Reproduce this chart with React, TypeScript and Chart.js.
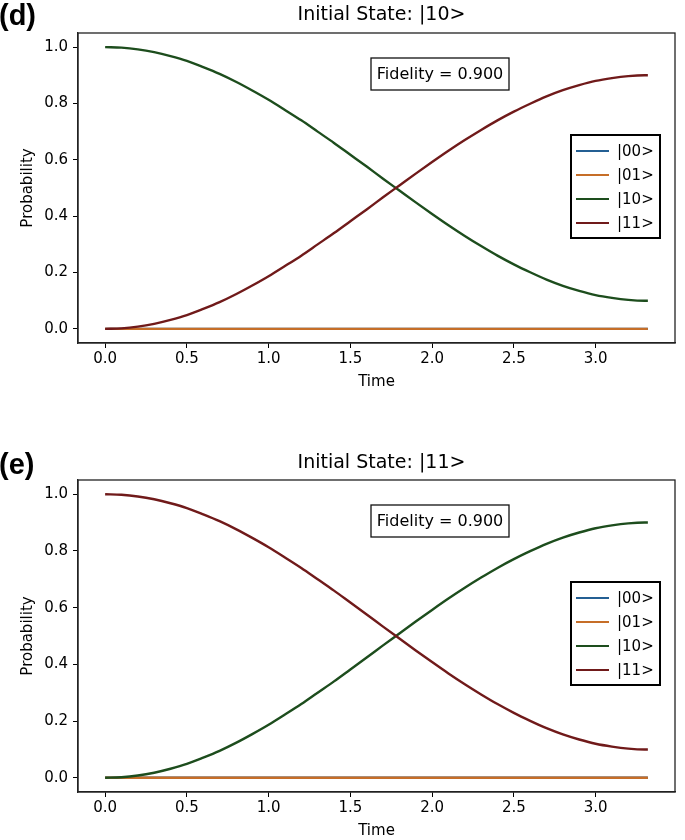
import React, { useEffect, useRef } from "react";
import { Chart, registerables } from "chart.js";

Chart.register(...registerables);

// ---- data ----
const TIME = [
  0, 0.1, 0.2, 0.3, 0.4, 0.5, 0.6, 0.7, 0.8, 0.9, 1.0, 1.1, 1.2, 1.3, 1.4, 1.5, 1.6,
  1.7, 1.8, 1.9, 2.0, 2.1, 2.2, 2.3, 2.4, 2.5, 2.6, 2.7, 2.8, 2.9, 3.0, 3.1, 3.2, 3.3, 3.32,
];
// probability of the initial state (falls from 1.0 to 0.1)
const FALLING = [
  1.0, 0.998, 0.992, 0.982, 0.968, 0.951, 0.929, 0.905, 0.877, 0.846, 0.813, 0.777, 0.74,
  0.7, 0.66, 0.618, 0.576, 0.533, 0.491, 0.449, 0.408, 0.368, 0.33, 0.294, 0.26, 0.229,
  0.201, 0.175, 0.153, 0.135, 0.12, 0.11, 0.103, 0.1, 0.1,
];
// probability of the target state (rises from 0 to 0.9)
const RISING = [
  0.0, 0.002, 0.008, 0.018, 0.032, 0.049, 0.071, 0.095, 0.123, 0.154, 0.187, 0.223, 0.26,
  0.3, 0.34, 0.382, 0.424, 0.467, 0.509, 0.551, 0.592, 0.632, 0.67, 0.706, 0.74, 0.771,
  0.799, 0.825, 0.847, 0.865, 0.88, 0.89, 0.897, 0.9, 0.9,
];
const FLAT_ZERO = [
  0, 0, 0, 0, 0, 0, 0, 0, 0, 0, 0, 0, 0, 0, 0, 0, 0, 0, 0, 0, 0, 0, 0, 0, 0, 0, 0, 0, 0,
  0, 0, 0, 0, 0, 0,
];

const STATES = ["|00>", "|01>", "|10>", "|11>"];
const X_TICKS = [0, 0.5, 1.0, 1.5, 2.0, 2.5, 3.0];
const Y_TICKS = [0, 0.2, 0.4, 0.6, 0.8, 1.0];

const PANEL_D_SERIES = [FLAT_ZERO, FLAT_ZERO, FALLING, RISING];
const PANEL_E_SERIES = [FLAT_ZERO, FLAT_ZERO, RISING, FALLING];

// ---- styles ----
const COLORS = ["#245f93", "#c66e28", "#1d4d1d", "#701a1a"];
const FONT = "'DejaVu Sans', sans-serif";

const decorPlugin = {
  id: "decor",
  afterDraw(chart: any, _args: any, opts: any) {
    const { ctx, chartArea: a } = chart;
    ctx.save();
    // axes frame
    ctx.strokeStyle = "#222";
    ctx.lineWidth = 1.3;
    ctx.strokeRect(a.left, a.top, a.right - a.left, a.bottom - a.top);

    // title
    ctx.fillStyle = "#000";
    ctx.font = `19px ${FONT}`;
    ctx.textAlign = "center";
    ctx.textBaseline = "middle";
    ctx.fillText(opts.title, (a.left + a.right) / 2 + 5, opts.titleY);

    // panel label
    ctx.font = "bold 29px 'Liberation Sans', Arial, sans-serif";
    ctx.textAlign = "left";
    ctx.fillText(opts.label, -1, opts.labelY);

    // fidelity box
    const fx = a.left + 293;
    const fy = a.top + 25;
    const fw = 138;
    const fh = 32;
    ctx.fillStyle = "#fff";
    ctx.fillRect(fx, fy, fw, fh);
    ctx.strokeStyle = "#111";
    ctx.lineWidth = 1.3;
    ctx.strokeRect(fx, fy, fw, fh);
    ctx.fillStyle = "#000";
    ctx.font = `16px ${FONT}`;
    ctx.textAlign = "center";
    ctx.fillText(opts.fidelity, fx + fw / 2, fy + fh / 2 + 1);

    // legend
    const lw = 89;
    const lh = 103;
    const lx = a.right - 15 - lw;
    const ly = a.top + 102;
    ctx.fillStyle = "#fff";
    ctx.fillRect(lx, ly, lw, lh);
    ctx.strokeStyle = "#000";
    ctx.lineWidth = 2;
    ctx.strokeRect(lx, ly, lw, lh);
    ctx.font = `15px ${FONT}`;
    ctx.textAlign = "left";
    chart.data.datasets.forEach((ds: any, i: number) => {
      const y = ly + 16 + i * 24;
      ctx.strokeStyle = ds.borderColor;
      ctx.lineWidth = 2.2;
      ctx.beginPath();
      ctx.moveTo(lx + 5, y);
      ctx.lineTo(lx + 38, y);
      ctx.stroke();
      ctx.fillStyle = "#000";
      ctx.fillText(ds.label, lx + 46, y + 1);
    });
    ctx.restore();
  },
};

function makeConfig(series: number[][], decor: any, xAxisHeight: number): any {
  return {
    type: "line",
    data: {
      datasets: series.map((vals, i) => ({
        label: STATES[i],
        data: TIME.map((t, j) => ({ x: t, y: vals[j] })),
        borderColor: COLORS[i],
        borderWidth: 2.4,
        pointRadius: 0,
        fill: false,
        cubicInterpolationMode: "monotone",
        order: series.length - i,
      })),
    },
    options: {
      animation: false,
      responsive: false,
      events: [],
      layout: { padding: { left: 0, right: 10, top: 33, bottom: 0 } },
      plugins: {
        legend: { display: false },
        title: { display: false },
        tooltip: { enabled: false },
        decor,
      },
      scales: {
        x: {
          type: "linear",
          min: -0.166,
          max: 3.486,
          afterBuildTicks: (s: any) => {
            s.ticks = X_TICKS.map((v) => ({ value: v }));
          },
          afterFit: (s: any) => {
            s.height = xAxisHeight;
          },
          ticks: {
            color: "#000",
            font: { family: FONT, size: 15 },
            padding: 2,
            maxRotation: 0,
            callback: (v: number) => v.toFixed(1),
          },
          grid: { drawOnChartArea: false, drawTicks: true, tickLength: 5, color: "#000" },
          border: { display: true, color: "#222", width: 1.3 },
          title: {
            display: true,
            text: "Time",
            color: "#000",
            font: { family: FONT, size: 15 },
            padding: { top: 0, bottom: 0 },
          },
        },
        y: {
          type: "linear",
          min: -0.05,
          max: 1.05,
          afterBuildTicks: (s: any) => {
            s.ticks = Y_TICKS.map((v) => ({ value: v }));
          },
          afterFit: (s: any) => {
            s.width = 78;
          },
          ticks: {
            color: "#000",
            font: { family: FONT, size: 15 },
            padding: 5,
            callback: (v: number) => v.toFixed(1),
          },
          grid: { drawOnChartArea: false, drawTicks: true, tickLength: 5, color: "#000" },
          border: { display: true, color: "#222", width: 1.3 },
          title: {
            display: true,
            text: "Probability",
            color: "#000",
            font: { family: FONT, size: 15 },
            padding: { top: 19, bottom: 0 },
          },
        },
      },
    },
    plugins: [decorPlugin],
  };
}

function Panel(props: { top: number; height: number; series: number[][]; decor: any; xAxisHeight: number }) {
  const ref = useRef<HTMLCanvasElement>(null);
  useEffect(() => {
    if (!ref.current) return;
    const chart = new Chart(ref.current, makeConfig(props.series, props.decor, props.xAxisHeight));
    return () => chart.destroy();
  }, []);
  return (
    <canvas
      ref={ref}
      width={685}
      height={props.height}
      style={{ position: "absolute", left: 0, top: props.top, width: 685, height: props.height }}
    />
  );
}

export default function App() {
  return (
    <div style={{ position: "fixed", left: 0, top: 0, width: 685, height: 840, background: "#fff" }}>
      <Panel
        top={0}
        height={391}
        series={PANEL_D_SERIES}
        xAxisHeight={48}
        decor={{ label: "(d)", labelY: 17, title: "Initial State: |10>", titleY: 15, fidelity: "Fidelity = 0.900" }}
      />
      <Panel
        top={447}
        height={393}
        series={PANEL_E_SERIES}
        xAxisHeight={48}
        decor={{ label: "(e)", labelY: 19, title: "Initial State: |11>", titleY: 16, fidelity: "Fidelity = 0.900" }}
      />
    </div>
  );
}
